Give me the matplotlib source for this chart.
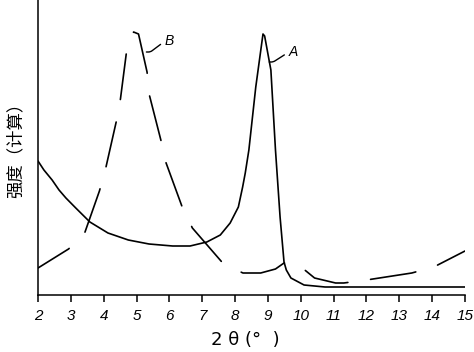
import matplotlib
matplotlib.use('Agg')
import matplotlib.pyplot as plt

plt.rcParams['lines.scale_dashes'] = False

# Curve A (solid)
two_theta_A = [2.0, 2.18, 2.43, 2.64, 2.85, 3.15, 3.58, 4.13, 4.75, 5.38, 6.10, 6.63, 7.14,
               7.55, 7.85, 8.10, 8.23, 8.31, 8.42, 8.63, 8.85, 8.90, 9.09, 9.23, 9.37, 9.49,
               9.56, 9.70, 10.10, 10.74, 15.0]
intensity_A = [134, 125, 115, 105, 97, 87, 73, 62, 55, 51, 49, 49, 53,
               60, 72, 88, 108, 122, 145, 208, 261, 259, 225, 145, 78, 33,
               25, 17, 10, 8, 8]

# Curve B (dashed)
two_theta_B = [2.0, 2.93, 3.41, 3.87, 4.07, 4.38, 4.51, 4.69, 4.91, 5.06, 5.32, 5.39, 5.74,
               5.90, 6.39, 6.70, 7.65, 8.24, 8.78, 9.23, 9.49, 9.7, 10.01, 10.42, 11.06, 11.31,
               12.0, 13.38, 14.05, 15.0]
intensity_B = [27, 46, 61, 104, 128, 173, 196, 242, 263, 261, 223, 200, 155,
               132, 88, 67, 31, 22, 22, 26, 32, 32, 28, 17, 12, 12,
               15, 22, 28, 44]

x_ticks = list(range(2, 16))
x_label = '2 θ (°  )'
y_label = '强度（计算）'

fig = plt.figure(figsize=(4.74, 3.52), dpi=100)
ax = fig.add_axes([38 / 474, 1 - 295 / 352, (465 - 38) / 474, 295 / 352])

ax.plot(two_theta_A, intensity_A, color='black', lw=1.2,
        solid_joinstyle='round', solid_capstyle='round')
ax.plot(two_theta_B, intensity_B, color='black', lw=1.2,
        linestyle=(6.5, (33.0, 16.5)), dash_capstyle='round', dash_joinstyle='round')

ax.set_xlim(2, 15)
ax.set_ylim(0, 295)
ax.set_yticks([])
ax.set_xticks(x_ticks)
ax.set_xticklabels([str(t) for t in x_ticks], fontstyle='italic', family='Liberation Sans', fontsize=11)
ax.tick_params(axis='x', direction='out', length=5, width=1.1, pad=5)
for s in ['top', 'right']:
    ax.spines[s].set_visible(False)
for s in ['left', 'bottom']:
    ax.spines[s].set_linewidth(1.1)

# Curve labels with leaders
ax.annotate('B', xy=(5.3, 243), xytext=(5.85, 254), ha='left', va='center',
            fontsize=10, fontstyle='italic', family='Liberation Sans',
            arrowprops=dict(arrowstyle='-', lw=1.0, color='black', shrinkA=1, shrinkB=0,
                            connectionstyle='arc,angleA=180,angleB=0,armA=4,armB=4,rad=2'))
ax.annotate('A', xy=(9.04, 233), xytext=(9.62, 243), ha='left', va='center',
            fontsize=10, fontstyle='italic', family='Liberation Sans',
            arrowprops=dict(arrowstyle='-', lw=1.0, color='black', shrinkA=1, shrinkB=0,
                            connectionstyle='arc,angleA=180,angleB=0,armA=4,armB=4,rad=2'))

fig.text(245 / 474, 1 - 340 / 352, x_label, ha='center', va='center', fontsize=13,
         family=['DejaVu Sans'])
fig.text(16 / 474, 1 - 146 / 352, y_label, ha='center', va='center', rotation=90,
         fontsize=12.5, family=['Noto Sans CJK SC', 'DejaVu Sans'])

fig.savefig('out.png', dpi=100)
